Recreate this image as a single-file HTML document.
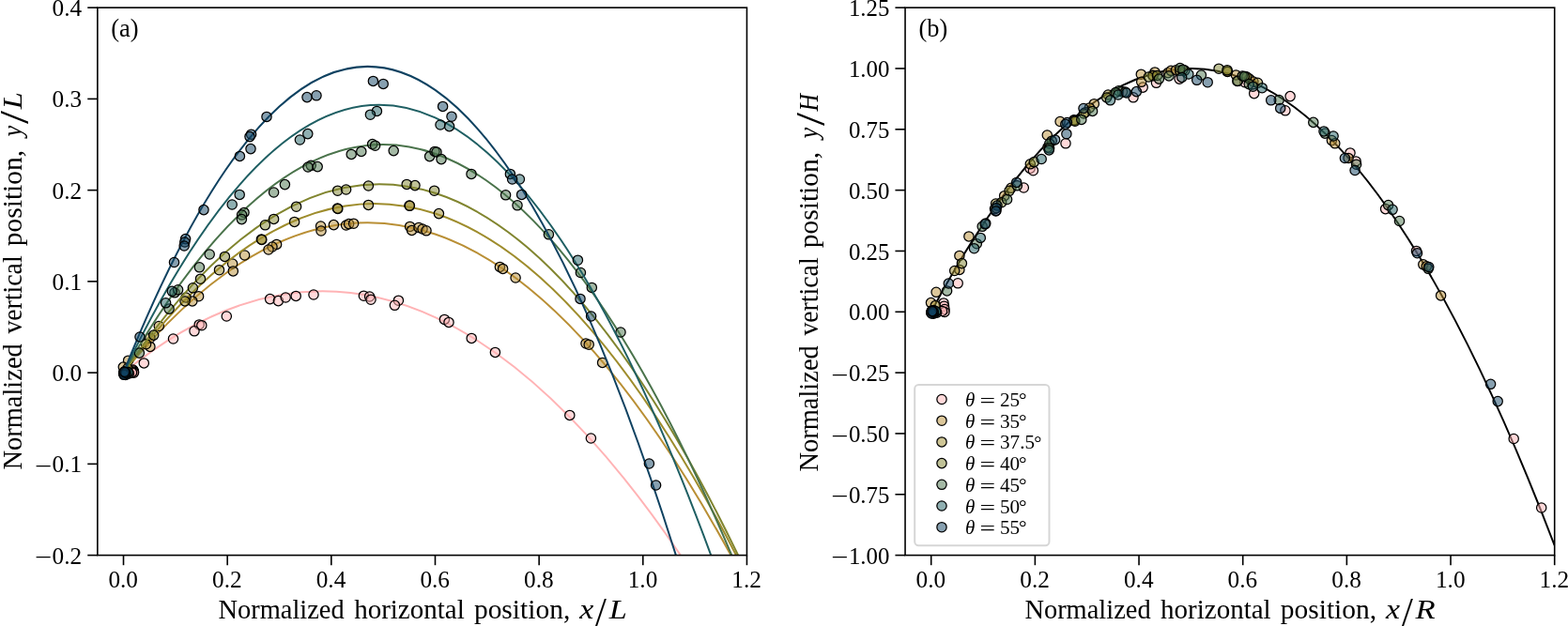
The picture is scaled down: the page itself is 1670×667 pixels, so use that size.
<!DOCTYPE html>
<html lang="en"><head><meta charset="utf-8"><title>Normalized projectile trajectories</title>
<style>html,body{margin:0;padding:0;background:#fff;}body{width:1670px;height:667px;overflow:hidden;}svg{display:block;}text{font-family:"Liberation Serif","DejaVu Serif",serif;fill:#000;}.it{font-style:italic;}.m{stroke:#000;stroke-width:1.25;}.c{fill:none;stroke-width:2;stroke-linecap:butt;stroke-linejoin:round;}.sp{fill:none;stroke:#000;stroke-width:1.6;stroke-linecap:square;}.t{stroke:#000;stroke-width:1.6;}</style></head><body>
<svg width="1670" height="667" viewBox="0 0 1670 667">
<rect x="0" y="0" width="1670" height="667" fill="#fff"/>
<defs><clipPath id="cl"><rect x="103.85" y="8.15" width="691.6" height="583.45"/></clipPath><clipPath id="cr"><rect x="964.05" y="8.15" width="691.65" height="583.45"/></clipPath></defs>
<g id="panel-a">
<g clip-path="url(#cl)">
<path class="c" stroke="#ffb3b5" d="M131.51 397.12Q463.48 125.05 795.45 705.36"/>
<g class="m" fill="#ffb3b5" fill-opacity="0.5">
<circle cx="287.6" cy="318.6" r="5.15"/>
<circle cx="296.4" cy="320.6" r="5.15"/>
<circle cx="304.2" cy="317.0" r="5.15"/>
<circle cx="315.2" cy="315.4" r="5.15"/>
<circle cx="334.0" cy="314.0" r="5.15"/>
<circle cx="387.4" cy="315.2" r="5.15"/>
<circle cx="393.6" cy="316.0" r="5.15"/>
<circle cx="395.0" cy="319.2" r="5.15"/>
<circle cx="424.4" cy="320.2" r="5.15"/>
<circle cx="420.4" cy="325.3" r="5.15"/>
<circle cx="241.3" cy="337.0" r="5.15"/>
<circle cx="212.2" cy="345.9" r="5.15"/>
<circle cx="214.8" cy="346.7" r="5.15"/>
<circle cx="207.0" cy="352.8" r="5.15"/>
<circle cx="184.5" cy="361.0" r="5.15"/>
<circle cx="153.3" cy="386.9" r="5.15"/>
<circle cx="473.4" cy="340.4" r="5.15"/>
<circle cx="478.0" cy="343.4" r="5.15"/>
<circle cx="502.2" cy="360.4" r="5.15"/>
<circle cx="527.4" cy="375.4" r="5.15"/>
<circle cx="606.8" cy="442.4" r="5.15"/>
<circle cx="629.4" cy="467.0" r="5.15"/>
<circle cx="141.7" cy="394.0" r="5.15"/>
<circle cx="142.1" cy="395.1" r="5.15"/>
<circle cx="142.5" cy="396.2" r="5.15"/>
<circle cx="142.5" cy="397.2" r="5.15"/>
<circle cx="140.5" cy="396.9" r="5.15"/>
</g>
<path class="c" stroke="#b98f35" d="M131.51 397.12Q463.48 -11.42 795.45 623.46"/>
<g class="m" fill="#b98f35" fill-opacity="0.5">
<circle cx="341.6" cy="241.0" r="5.15"/>
<circle cx="342.0" cy="246.0" r="5.15"/>
<circle cx="355.4" cy="239.6" r="5.15"/>
<circle cx="368.6" cy="240.0" r="5.15"/>
<circle cx="371.6" cy="238.6" r="5.15"/>
<circle cx="376.6" cy="238.2" r="5.15"/>
<circle cx="436.6" cy="241.4" r="5.15"/>
<circle cx="438.6" cy="245.4" r="5.15"/>
<circle cx="446.0" cy="242.4" r="5.15"/>
<circle cx="450.0" cy="244.0" r="5.15"/>
<circle cx="454.0" cy="245.8" r="5.15"/>
<circle cx="294.6" cy="260.4" r="5.15"/>
<circle cx="290.0" cy="263.0" r="5.15"/>
<circle cx="286.0" cy="266.0" r="5.15"/>
<circle cx="260.6" cy="272.0" r="5.15"/>
<circle cx="247.6" cy="281.0" r="5.15"/>
<circle cx="248.3" cy="288.9" r="5.15"/>
<circle cx="211.6" cy="315.7" r="5.15"/>
<circle cx="204.8" cy="320.9" r="5.15"/>
<circle cx="159.9" cy="369.4" r="5.15"/>
<circle cx="159.9" cy="360.2" r="5.15"/>
<circle cx="169.3" cy="347.5" r="5.15"/>
<circle cx="136.6" cy="384.2" r="5.15"/>
<circle cx="532.4" cy="284.4" r="5.15"/>
<circle cx="535.6" cy="286.4" r="5.15"/>
<circle cx="549.1" cy="296.0" r="5.15"/>
<circle cx="624.0" cy="366.0" r="5.15"/>
<circle cx="627.2" cy="367.2" r="5.15"/>
<circle cx="641.6" cy="386.4" r="5.15"/>
<circle cx="131.3" cy="391.1" r="5.15"/>
<circle cx="132.3" cy="396.3" r="5.15"/>
<circle cx="132.9" cy="397.2" r="5.15"/>
<circle cx="131.6" cy="397.6" r="5.15"/>
</g>
<path class="c" stroke="#9e8c2c" d="M131.51 397.12Q463.48 -50.58 795.45 614.10"/>
<g class="m" fill="#9e8c2c" fill-opacity="0.5">
<circle cx="392.4" cy="218.4" r="5.15"/>
<circle cx="359.4" cy="222.0" r="5.15"/>
<circle cx="359.8" cy="222.4" r="5.15"/>
<circle cx="436.0" cy="219.0" r="5.15"/>
<circle cx="436.4" cy="219.3" r="5.15"/>
<circle cx="313.6" cy="236.4" r="5.15"/>
<circle cx="278.4" cy="255.0" r="5.15"/>
<circle cx="278.8" cy="255.4" r="5.15"/>
<circle cx="233.5" cy="287.7" r="5.15"/>
<circle cx="198.0" cy="317.0" r="5.15"/>
<circle cx="197.0" cy="320.9" r="5.15"/>
<circle cx="467.4" cy="227.6" r="5.15"/>
<circle cx="155.6" cy="366.7" r="5.15"/>
<circle cx="135.9" cy="392.5" r="5.15"/>
<circle cx="132.4" cy="396.8" r="5.15"/>
<circle cx="133.1" cy="397.7" r="5.15"/>
</g>
<path class="c" stroke="#81852f" d="M131.51 397.12Q463.48 -92.46 795.45 611.07"/>
<g class="m" fill="#81852f" fill-opacity="0.5">
<circle cx="359.6" cy="203.2" r="5.15"/>
<circle cx="368.6" cy="202.0" r="5.15"/>
<circle cx="392.4" cy="198.0" r="5.15"/>
<circle cx="433.2" cy="196.4" r="5.15"/>
<circle cx="442.0" cy="197.6" r="5.15"/>
<circle cx="315.6" cy="220.2" r="5.15"/>
<circle cx="291.6" cy="233.4" r="5.15"/>
<circle cx="282.4" cy="239.8" r="5.15"/>
<circle cx="239.4" cy="273.4" r="5.15"/>
<circle cx="213.5" cy="297.2" r="5.15"/>
<circle cx="205.4" cy="306.8" r="5.15"/>
<circle cx="163.7" cy="357.1" r="5.15"/>
<circle cx="462.6" cy="203.2" r="5.15"/>
<circle cx="132.0" cy="396.5" r="5.15"/>
<circle cx="133.4" cy="397.6" r="5.15"/>
<circle cx="134.3" cy="395.7" r="5.15"/>
</g>
<path class="c" stroke="#4a734b" d="M131.51 397.12Q463.48 -186.33 795.45 630.50"/>
<g class="m" fill="#4a734b" fill-opacity="0.5">
<circle cx="396.6" cy="153.6" r="5.15"/>
<circle cx="399.6" cy="155.2" r="5.15"/>
<circle cx="419.2" cy="160.6" r="5.15"/>
<circle cx="384.8" cy="161.4" r="5.15"/>
<circle cx="374.2" cy="164.4" r="5.15"/>
<circle cx="457.6" cy="166.6" r="5.15"/>
<circle cx="463.0" cy="161.4" r="5.15"/>
<circle cx="465.0" cy="162.0" r="5.15"/>
<circle cx="470.0" cy="169.6" r="5.15"/>
<circle cx="331.2" cy="176.3" r="5.15"/>
<circle cx="328.0" cy="178.0" r="5.15"/>
<circle cx="338.2" cy="177.6" r="5.15"/>
<circle cx="303.4" cy="196.6" r="5.15"/>
<circle cx="291.6" cy="205.0" r="5.15"/>
<circle cx="223.2" cy="271.0" r="5.15"/>
<circle cx="212.4" cy="284.8" r="5.15"/>
<circle cx="260.0" cy="226.4" r="5.15"/>
<circle cx="257.6" cy="229.0" r="5.15"/>
<circle cx="257.4" cy="233.6" r="5.15"/>
<circle cx="502.0" cy="185.4" r="5.15"/>
<circle cx="538.6" cy="207.8" r="5.15"/>
<circle cx="551.0" cy="218.8" r="5.15"/>
<circle cx="584.4" cy="249.8" r="5.15"/>
<circle cx="618.4" cy="290.5" r="5.15"/>
<circle cx="630.3" cy="306.4" r="5.15"/>
<circle cx="661.0" cy="354.0" r="5.15"/>
<circle cx="186.0" cy="311.8" r="5.15"/>
<circle cx="189.6" cy="308.8" r="5.15"/>
<circle cx="180.1" cy="329.1" r="5.15"/>
<circle cx="148.4" cy="376.1" r="5.15"/>
<circle cx="132.6" cy="396.1" r="5.15"/>
<circle cx="133.7" cy="398.1" r="5.15"/>
<circle cx="136.3" cy="397.0" r="5.15"/>
</g>
<path class="c" stroke="#1f5f63" d="M131.51 397.12Q463.48 -298.21 795.45 700.99"/>
<g class="m" fill="#1f5f63" fill-opacity="0.5">
<circle cx="401.4" cy="118.4" r="5.15"/>
<circle cx="394.4" cy="122.2" r="5.15"/>
<circle cx="327.8" cy="142.6" r="5.15"/>
<circle cx="319.4" cy="149.0" r="5.15"/>
<circle cx="255.2" cy="207.4" r="5.15"/>
<circle cx="247.2" cy="218.0" r="5.15"/>
<circle cx="469.0" cy="133.0" r="5.15"/>
<circle cx="478.6" cy="134.6" r="5.15"/>
<circle cx="543.4" cy="185.4" r="5.15"/>
<circle cx="553.4" cy="191.0" r="5.15"/>
<circle cx="615.4" cy="277.2" r="5.15"/>
<circle cx="183.3" cy="310.3" r="5.15"/>
<circle cx="176.6" cy="322.8" r="5.15"/>
<circle cx="137.4" cy="398.0" r="5.15"/>
<circle cx="136.5" cy="396.6" r="5.15"/>
<circle cx="132.8" cy="396.8" r="5.15"/>
<circle cx="132.0" cy="398.3" r="5.15"/>
</g>
<path class="c" stroke="#0f4261" d="M131.51 397.12Q463.48 -436.14 795.45 858.76"/>
<g class="m" fill="#0f4261" fill-opacity="0.5">
<circle cx="397.4" cy="86.4" r="5.15"/>
<circle cx="408.2" cy="89.4" r="5.15"/>
<circle cx="327.0" cy="103.6" r="5.15"/>
<circle cx="337.0" cy="101.8" r="5.15"/>
<circle cx="284.0" cy="124.4" r="5.15"/>
<circle cx="267.6" cy="143.2" r="5.15"/>
<circle cx="266.0" cy="145.6" r="5.15"/>
<circle cx="267.0" cy="158.6" r="5.15"/>
<circle cx="255.4" cy="166.4" r="5.15"/>
<circle cx="217.0" cy="223.6" r="5.15"/>
<circle cx="197.6" cy="254.6" r="5.15"/>
<circle cx="196.8" cy="258.0" r="5.15"/>
<circle cx="196.2" cy="262.0" r="5.15"/>
<circle cx="185.5" cy="279.5" r="5.15"/>
<circle cx="471.6" cy="113.4" r="5.15"/>
<circle cx="481.0" cy="124.2" r="5.15"/>
<circle cx="545.6" cy="191.0" r="5.15"/>
<circle cx="555.6" cy="207.4" r="5.15"/>
<circle cx="618.0" cy="318.4" r="5.15"/>
<circle cx="629.6" cy="337.0" r="5.15"/>
<circle cx="691.4" cy="494.0" r="5.15"/>
<circle cx="698.6" cy="517.0" r="5.15"/>
<circle cx="149.0" cy="359.0" r="5.15"/>
<circle cx="133.0" cy="398.3" r="5.15"/>
<circle cx="132.2" cy="397.0" r="5.15"/>
<circle cx="133.8" cy="399.5" r="5.15"/>
<circle cx="131.9" cy="399.3" r="5.15"/>
<circle cx="133.8" cy="397.1" r="5.15"/>
<circle cx="132.6" cy="396.2" r="5.15"/>
</g>
</g>
<rect class="sp" x="103.85" y="8.15" width="691.6" height="583.45"/>
<line class="t" x1="131.51" y1="591.6" x2="131.51" y2="602.2"/>
<line class="t" x1="242.17" y1="591.6" x2="242.17" y2="602.2"/>
<line class="t" x1="352.83" y1="591.6" x2="352.83" y2="602.2"/>
<line class="t" x1="463.48" y1="591.6" x2="463.48" y2="602.2"/>
<line class="t" x1="574.14" y1="591.6" x2="574.14" y2="602.2"/>
<line class="t" x1="684.79" y1="591.6" x2="684.79" y2="602.2"/>
<line class="t" x1="795.45" y1="591.6" x2="795.45" y2="602.2"/>
<line class="t" x1="93.25" y1="591.60" x2="103.85" y2="591.60"/>
<line class="t" x1="93.25" y1="494.36" x2="103.85" y2="494.36"/>
<line class="t" x1="93.25" y1="397.12" x2="103.85" y2="397.12"/>
<line class="t" x1="93.25" y1="299.87" x2="103.85" y2="299.87"/>
<line class="t" x1="93.25" y1="202.63" x2="103.85" y2="202.63"/>
<line class="t" x1="93.25" y1="105.39" x2="103.85" y2="105.39"/>
<line class="t" x1="93.25" y1="8.15" x2="103.85" y2="8.15"/>
<text x="232.48" y="659.45" textLength="134.26" lengthAdjust="spacingAndGlyphs" style="font-size:29.6px">Normalized</text>
<text x="377.15" y="659.45" textLength="117.62" lengthAdjust="spacingAndGlyphs" style="font-size:29.6px">horizontal</text>
<text x="504.90" y="659.45" textLength="102.37" lengthAdjust="spacingAndGlyphs" style="font-size:29.6px">position,</text>
<text class="it" x="617.18" y="659.45" textLength="14.98" lengthAdjust="spacingAndGlyphs" style="font-size:29.6px">x</text>
<text x="634.00" y="667.05" textLength="11.89" lengthAdjust="spacingAndGlyphs" style="font-size:43.5px">/</text>
<text class="it" x="648.89" y="659.45" textLength="19.11" lengthAdjust="spacingAndGlyphs" style="font-size:29.6px">L</text>
<text x="118.17" y="38.70" textLength="29.42" lengthAdjust="spacingAndGlyphs" style="font-size:27px">(a)</text>
<text x="115.41" y="625.60" textLength="31.59" lengthAdjust="spacingAndGlyphs" style="font-size:25.2px">0.0</text>
<text x="226.07" y="625.60" textLength="31.59" lengthAdjust="spacingAndGlyphs" style="font-size:25.2px">0.2</text>
<text x="336.72" y="625.60" textLength="31.59" lengthAdjust="spacingAndGlyphs" style="font-size:25.2px">0.4</text>
<text x="447.38" y="625.60" textLength="31.59" lengthAdjust="spacingAndGlyphs" style="font-size:25.2px">0.6</text>
<text x="558.03" y="625.60" textLength="31.59" lengthAdjust="spacingAndGlyphs" style="font-size:25.2px">0.8</text>
<text x="668.69" y="625.60" textLength="31.59" lengthAdjust="spacingAndGlyphs" style="font-size:25.2px">1.0</text>
<text x="779.35" y="625.60" textLength="31.59" lengthAdjust="spacingAndGlyphs" style="font-size:25.2px">1.2</text>
<text x="55.50" y="600.70" textLength="31.59" lengthAdjust="spacingAndGlyphs" style="font-size:25.2px">0.2</text>
<text x="36.99" y="602.30" textLength="18.27" lengthAdjust="spacingAndGlyphs" style="font-size:25.2px">−</text>
<text x="55.50" y="503.46" textLength="31.59" lengthAdjust="spacingAndGlyphs" style="font-size:25.2px">0.1</text>
<text x="36.99" y="505.06" textLength="18.27" lengthAdjust="spacingAndGlyphs" style="font-size:25.2px">−</text>
<text x="55.50" y="406.22" textLength="31.59" lengthAdjust="spacingAndGlyphs" style="font-size:25.2px">0.0</text>
<text x="55.50" y="308.97" textLength="31.59" lengthAdjust="spacingAndGlyphs" style="font-size:25.2px">0.1</text>
<text x="55.50" y="211.73" textLength="31.59" lengthAdjust="spacingAndGlyphs" style="font-size:25.2px">0.2</text>
<text x="55.50" y="114.49" textLength="31.59" lengthAdjust="spacingAndGlyphs" style="font-size:25.2px">0.3</text>
<text x="55.50" y="17.25" textLength="31.59" lengthAdjust="spacingAndGlyphs" style="font-size:25.2px">0.4</text>
<g transform="translate(22.8,500) rotate(-90)">
<text x="-0.52" y="0.00" textLength="134.26" lengthAdjust="spacingAndGlyphs" style="font-size:29.6px">Normalized</text>
<text x="144.40" y="0.00" textLength="83.25" lengthAdjust="spacingAndGlyphs" style="font-size:29.6px">vertical</text>
<text x="237.80" y="0.00" textLength="102.37" lengthAdjust="spacingAndGlyphs" style="font-size:29.6px">position,</text>
<text class="it" x="354.42" y="0.00" textLength="11.68" lengthAdjust="spacingAndGlyphs" style="font-size:29.6px">y</text>
<text x="367.90" y="7.60" textLength="13.91" lengthAdjust="spacingAndGlyphs" style="font-size:43.5px">/</text>
<text class="it" x="383.78" y="0.00" textLength="18.14" lengthAdjust="spacingAndGlyphs" style="font-size:29.6px">L</text>
</g>
</g>
<g id="panel-b">
<g clip-path="url(#cr)">
<path class="c" stroke="#000" style="stroke-width:2" d="M991.72 332.29Q1323.71 -290.06 1655.70 581.23"/>
<g class="m" fill="#ffb3b5" fill-opacity="0.5">
<circle cx="1195.5" cy="97.8" r="5.15"/>
<circle cx="1207.0" cy="103.8" r="5.15"/>
<circle cx="1217.2" cy="93.1" r="5.15"/>
<circle cx="1231.5" cy="88.3" r="5.15"/>
<circle cx="1256.1" cy="84.1" r="5.15"/>
<circle cx="1325.8" cy="87.7" r="5.15"/>
<circle cx="1333.9" cy="90.1" r="5.15"/>
<circle cx="1335.7" cy="99.6" r="5.15"/>
<circle cx="1374.1" cy="102.6" r="5.15"/>
<circle cx="1368.9" cy="117.8" r="5.15"/>
<circle cx="1135.0" cy="152.8" r="5.15"/>
<circle cx="1097.1" cy="179.4" r="5.15"/>
<circle cx="1100.4" cy="181.7" r="5.15"/>
<circle cx="1090.3" cy="200.0" r="5.15"/>
<circle cx="1060.9" cy="224.4" r="5.15"/>
<circle cx="1020.2" cy="301.8" r="5.15"/>
<circle cx="1438.0" cy="162.9" r="5.15"/>
<circle cx="1444.1" cy="171.9" r="5.15"/>
<circle cx="1475.6" cy="222.6" r="5.15"/>
<circle cx="1508.5" cy="267.4" r="5.15"/>
<circle cx="1612.2" cy="467.5" r="5.15"/>
<circle cx="1641.7" cy="541.0" r="5.15"/>
<circle cx="1005.0" cy="322.9" r="5.15"/>
<circle cx="1005.5" cy="326.2" r="5.15"/>
<circle cx="1006.0" cy="329.5" r="5.15"/>
<circle cx="1006.0" cy="332.4" r="5.15"/>
<circle cx="1003.5" cy="331.5" r="5.15"/>
</g>
<g class="m" fill="#b98f35" fill-opacity="0.5">
<circle cx="1215.3" cy="79.2" r="5.15"/>
<circle cx="1215.7" cy="87.3" r="5.15"/>
<circle cx="1230.0" cy="76.9" r="5.15"/>
<circle cx="1244.0" cy="77.6" r="5.15"/>
<circle cx="1247.2" cy="75.3" r="5.15"/>
<circle cx="1252.5" cy="74.7" r="5.15"/>
<circle cx="1316.4" cy="79.9" r="5.15"/>
<circle cx="1318.5" cy="86.3" r="5.15"/>
<circle cx="1326.4" cy="81.5" r="5.15"/>
<circle cx="1330.7" cy="84.1" r="5.15"/>
<circle cx="1334.9" cy="87.0" r="5.15"/>
<circle cx="1165.3" cy="110.7" r="5.15"/>
<circle cx="1160.4" cy="114.9" r="5.15"/>
<circle cx="1156.1" cy="119.7" r="5.15"/>
<circle cx="1129.1" cy="129.5" r="5.15"/>
<circle cx="1115.3" cy="144.0" r="5.15"/>
<circle cx="1116.0" cy="156.9" r="5.15"/>
<circle cx="1076.9" cy="200.3" r="5.15"/>
<circle cx="1069.7" cy="208.7" r="5.15"/>
<circle cx="1021.9" cy="287.4" r="5.15"/>
<circle cx="1021.9" cy="272.4" r="5.15"/>
<circle cx="1031.9" cy="251.9" r="5.15"/>
<circle cx="997.1" cy="311.3" r="5.15"/>
<circle cx="1418.4" cy="149.6" r="5.15"/>
<circle cx="1421.8" cy="152.8" r="5.15"/>
<circle cx="1436.1" cy="168.4" r="5.15"/>
<circle cx="1515.8" cy="281.8" r="5.15"/>
<circle cx="1519.3" cy="283.8" r="5.15"/>
<circle cx="1534.6" cy="314.9" r="5.15"/>
<circle cx="991.5" cy="322.6" r="5.15"/>
<circle cx="992.5" cy="331.0" r="5.15"/>
<circle cx="993.2" cy="332.5" r="5.15"/>
<circle cx="991.8" cy="333.0" r="5.15"/>
</g>
<g class="m" fill="#9e8c2c" fill-opacity="0.5">
<circle cx="1261.8" cy="75.1" r="5.15"/>
<circle cx="1227.7" cy="80.3" r="5.15"/>
<circle cx="1228.1" cy="80.8" r="5.15"/>
<circle cx="1307.0" cy="76.0" r="5.15"/>
<circle cx="1307.4" cy="76.4" r="5.15"/>
<circle cx="1180.2" cy="101.0" r="5.15"/>
<circle cx="1143.8" cy="127.8" r="5.15"/>
<circle cx="1144.2" cy="128.3" r="5.15"/>
<circle cx="1097.3" cy="174.8" r="5.15"/>
<circle cx="1060.6" cy="217.0" r="5.15"/>
<circle cx="1059.5" cy="222.6" r="5.15"/>
<circle cx="1339.5" cy="88.3" r="5.15"/>
<circle cx="1016.7" cy="288.5" r="5.15"/>
<circle cx="996.3" cy="325.6" r="5.15"/>
<circle cx="992.6" cy="331.8" r="5.15"/>
<circle cx="993.4" cy="333.2" r="5.15"/>
</g>
<g class="m" fill="#81852f" fill-opacity="0.5">
<circle cx="1223.3" cy="82.0" r="5.15"/>
<circle cx="1232.5" cy="80.4" r="5.15"/>
<circle cx="1256.6" cy="75.3" r="5.15"/>
<circle cx="1298.1" cy="73.2" r="5.15"/>
<circle cx="1307.0" cy="74.7" r="5.15"/>
<circle cx="1178.7" cy="103.9" r="5.15"/>
<circle cx="1154.3" cy="121.0" r="5.15"/>
<circle cx="1144.9" cy="129.2" r="5.15"/>
<circle cx="1101.3" cy="172.6" r="5.15"/>
<circle cx="1075.0" cy="203.3" r="5.15"/>
<circle cx="1066.7" cy="215.7" r="5.15"/>
<circle cx="1024.4" cy="280.6" r="5.15"/>
<circle cx="1327.9" cy="82.0" r="5.15"/>
<circle cx="992.2" cy="331.5" r="5.15"/>
<circle cx="993.6" cy="332.9" r="5.15"/>
<circle cx="994.5" cy="330.5" r="5.15"/>
</g>
<g class="m" fill="#4a734b" fill-opacity="0.5">
<circle cx="1256.8" cy="72.5" r="5.15"/>
<circle cx="1259.8" cy="74.2" r="5.15"/>
<circle cx="1279.4" cy="80.0" r="5.15"/>
<circle cx="1245.0" cy="80.9" r="5.15"/>
<circle cx="1234.4" cy="84.1" r="5.15"/>
<circle cx="1317.8" cy="86.4" r="5.15"/>
<circle cx="1323.2" cy="80.9" r="5.15"/>
<circle cx="1325.2" cy="81.5" r="5.15"/>
<circle cx="1330.2" cy="89.6" r="5.15"/>
<circle cx="1191.4" cy="96.8" r="5.15"/>
<circle cx="1188.2" cy="98.6" r="5.15"/>
<circle cx="1198.4" cy="98.1" r="5.15"/>
<circle cx="1163.6" cy="118.4" r="5.15"/>
<circle cx="1151.8" cy="127.4" r="5.15"/>
<circle cx="1083.4" cy="197.8" r="5.15"/>
<circle cx="1072.6" cy="212.5" r="5.15"/>
<circle cx="1120.2" cy="150.2" r="5.15"/>
<circle cx="1117.8" cy="153.0" r="5.15"/>
<circle cx="1117.6" cy="157.9" r="5.15"/>
<circle cx="1362.2" cy="106.5" r="5.15"/>
<circle cx="1398.8" cy="130.4" r="5.15"/>
<circle cx="1411.2" cy="142.1" r="5.15"/>
<circle cx="1444.6" cy="175.2" r="5.15"/>
<circle cx="1478.6" cy="218.6" r="5.15"/>
<circle cx="1490.5" cy="235.5" r="5.15"/>
<circle cx="1521.2" cy="286.3" r="5.15"/>
<circle cx="1046.2" cy="241.3" r="5.15"/>
<circle cx="1049.8" cy="238.1" r="5.15"/>
<circle cx="1040.3" cy="259.7" r="5.15"/>
<circle cx="1008.6" cy="309.9" r="5.15"/>
<circle cx="992.8" cy="331.2" r="5.15"/>
<circle cx="993.9" cy="333.3" r="5.15"/>
<circle cx="996.5" cy="332.2" r="5.15"/>
</g>
<g class="m" fill="#1f5f63" fill-opacity="0.5">
<circle cx="1265.8" cy="79.0" r="5.15"/>
<circle cx="1258.7" cy="82.4" r="5.15"/>
<circle cx="1191.0" cy="101.0" r="5.15"/>
<circle cx="1182.5" cy="106.8" r="5.15"/>
<circle cx="1117.3" cy="159.9" r="5.15"/>
<circle cx="1109.2" cy="169.5" r="5.15"/>
<circle cx="1334.4" cy="92.2" r="5.15"/>
<circle cx="1344.2" cy="93.7" r="5.15"/>
<circle cx="1410.0" cy="139.9" r="5.15"/>
<circle cx="1420.1" cy="145.0" r="5.15"/>
<circle cx="1483.1" cy="223.3" r="5.15"/>
<circle cx="1044.3" cy="253.4" r="5.15"/>
<circle cx="1037.5" cy="264.7" r="5.15"/>
<circle cx="997.7" cy="333.1" r="5.15"/>
<circle cx="996.8" cy="331.8" r="5.15"/>
<circle cx="993.0" cy="332.0" r="5.15"/>
<circle cx="992.2" cy="333.4" r="5.15"/>
</g>
<g class="m" fill="#0f4261" fill-opacity="0.5">
<circle cx="1274.7" cy="85.3" r="5.15"/>
<circle cx="1286.2" cy="87.7" r="5.15"/>
<circle cx="1199.8" cy="99.0" r="5.15"/>
<circle cx="1210.4" cy="97.6" r="5.15"/>
<circle cx="1154.0" cy="115.5" r="5.15"/>
<circle cx="1136.5" cy="130.5" r="5.15"/>
<circle cx="1134.8" cy="132.4" r="5.15"/>
<circle cx="1135.9" cy="142.7" r="5.15"/>
<circle cx="1123.6" cy="148.9" r="5.15"/>
<circle cx="1082.7" cy="194.4" r="5.15"/>
<circle cx="1062.0" cy="219.0" r="5.15"/>
<circle cx="1061.2" cy="221.7" r="5.15"/>
<circle cx="1060.6" cy="224.9" r="5.15"/>
<circle cx="1049.2" cy="238.8" r="5.15"/>
<circle cx="1353.7" cy="106.8" r="5.15"/>
<circle cx="1363.7" cy="115.4" r="5.15"/>
<circle cx="1432.4" cy="168.5" r="5.15"/>
<circle cx="1443.1" cy="181.5" r="5.15"/>
<circle cx="1509.5" cy="269.7" r="5.15"/>
<circle cx="1521.8" cy="284.5" r="5.15"/>
<circle cx="1587.6" cy="409.3" r="5.15"/>
<circle cx="1595.2" cy="427.6" r="5.15"/>
<circle cx="1010.3" cy="302.0" r="5.15"/>
<circle cx="993.3" cy="333.2" r="5.15"/>
<circle cx="992.4" cy="332.2" r="5.15"/>
<circle cx="994.2" cy="334.2" r="5.15"/>
<circle cx="992.1" cy="334.0" r="5.15"/>
<circle cx="994.2" cy="332.3" r="5.15"/>
<circle cx="992.9" cy="331.6" r="5.15"/>
</g>
</g>
<rect x="974.2" y="410" width="143.3" height="171.2" rx="4.2" ry="4.2" fill="#fff" fill-opacity="0.8" stroke="#ccc" stroke-opacity="0.8" stroke-width="2"/>
<circle class="m" cx="1003" cy="425.50" r="5.15" fill="#ffb3b5" fill-opacity="0.5" style="stroke-width:1.25"/>
<circle class="m" cx="1003" cy="448.20" r="5.15" fill="#b98f35" fill-opacity="0.5" style="stroke-width:1.25"/>
<circle class="m" cx="1003" cy="470.90" r="5.15" fill="#9e8c2c" fill-opacity="0.5" style="stroke-width:1.25"/>
<circle class="m" cx="1003" cy="493.60" r="5.15" fill="#81852f" fill-opacity="0.5" style="stroke-width:1.25"/>
<circle class="m" cx="1003" cy="516.30" r="5.15" fill="#4a734b" fill-opacity="0.5" style="stroke-width:1.25"/>
<circle class="m" cx="1003" cy="539.00" r="5.15" fill="#1f5f63" fill-opacity="0.5" style="stroke-width:1.25"/>
<circle class="m" cx="1003" cy="561.70" r="5.15" fill="#0f4261" fill-opacity="0.5" style="stroke-width:1.25"/>
<text class="it" x="1027.93" y="433.05" textLength="10.37" lengthAdjust="spacingAndGlyphs" style="font-size:21.7px">θ</text>
<text x="1043.64" y="434.05" textLength="16.59" lengthAdjust="spacingAndGlyphs" style="font-size:21.7px">=</text>
<text x="1065.02" y="433.05" textLength="21.19" lengthAdjust="spacingAndGlyphs" style="font-size:21.7px">25</text>
<text x="1085.00" y="433.15" textLength="8.53" lengthAdjust="spacingAndGlyphs" style="font-size:21.3px">°</text>
<text class="it" x="1027.93" y="455.75" textLength="10.37" lengthAdjust="spacingAndGlyphs" style="font-size:21.7px">θ</text>
<text x="1043.64" y="456.75" textLength="16.59" lengthAdjust="spacingAndGlyphs" style="font-size:21.7px">=</text>
<text x="1065.02" y="455.75" textLength="21.19" lengthAdjust="spacingAndGlyphs" style="font-size:21.7px">35</text>
<text x="1085.00" y="455.85" textLength="8.53" lengthAdjust="spacingAndGlyphs" style="font-size:21.3px">°</text>
<text class="it" x="1027.93" y="478.45" textLength="10.37" lengthAdjust="spacingAndGlyphs" style="font-size:21.7px">θ</text>
<text x="1043.64" y="479.45" textLength="16.59" lengthAdjust="spacingAndGlyphs" style="font-size:21.7px">=</text>
<text x="1065.03" y="478.45" textLength="37.00" lengthAdjust="spacingAndGlyphs" style="font-size:21.7px">37.5</text>
<text x="1101.35" y="478.55" textLength="8.14" lengthAdjust="spacingAndGlyphs" style="font-size:21.3px">°</text>
<text class="it" x="1027.93" y="501.15" textLength="10.37" lengthAdjust="spacingAndGlyphs" style="font-size:21.7px">θ</text>
<text x="1043.64" y="502.15" textLength="16.59" lengthAdjust="spacingAndGlyphs" style="font-size:21.7px">=</text>
<text x="1065.02" y="501.15" textLength="21.19" lengthAdjust="spacingAndGlyphs" style="font-size:21.7px">40</text>
<text x="1085.00" y="501.25" textLength="8.53" lengthAdjust="spacingAndGlyphs" style="font-size:21.3px">°</text>
<text class="it" x="1027.93" y="523.85" textLength="10.37" lengthAdjust="spacingAndGlyphs" style="font-size:21.7px">θ</text>
<text x="1043.64" y="524.85" textLength="16.59" lengthAdjust="spacingAndGlyphs" style="font-size:21.7px">=</text>
<text x="1065.02" y="523.85" textLength="21.19" lengthAdjust="spacingAndGlyphs" style="font-size:21.7px">45</text>
<text x="1085.00" y="523.95" textLength="8.53" lengthAdjust="spacingAndGlyphs" style="font-size:21.3px">°</text>
<text class="it" x="1027.93" y="546.55" textLength="10.37" lengthAdjust="spacingAndGlyphs" style="font-size:21.7px">θ</text>
<text x="1043.64" y="547.55" textLength="16.59" lengthAdjust="spacingAndGlyphs" style="font-size:21.7px">=</text>
<text x="1065.02" y="546.55" textLength="21.19" lengthAdjust="spacingAndGlyphs" style="font-size:21.7px">50</text>
<text x="1085.00" y="546.65" textLength="8.53" lengthAdjust="spacingAndGlyphs" style="font-size:21.3px">°</text>
<text class="it" x="1027.93" y="569.25" textLength="10.37" lengthAdjust="spacingAndGlyphs" style="font-size:21.7px">θ</text>
<text x="1043.64" y="570.25" textLength="16.59" lengthAdjust="spacingAndGlyphs" style="font-size:21.7px">=</text>
<text x="1065.02" y="569.25" textLength="21.19" lengthAdjust="spacingAndGlyphs" style="font-size:21.7px">55</text>
<text x="1085.00" y="569.35" textLength="8.53" lengthAdjust="spacingAndGlyphs" style="font-size:21.3px">°</text>
<rect class="sp" x="964.05" y="8.15" width="691.65" height="583.45"/>
<line class="t" x1="991.72" y1="591.6" x2="991.72" y2="602.2"/>
<line class="t" x1="1102.38" y1="591.6" x2="1102.38" y2="602.2"/>
<line class="t" x1="1213.04" y1="591.6" x2="1213.04" y2="602.2"/>
<line class="t" x1="1323.71" y1="591.6" x2="1323.71" y2="602.2"/>
<line class="t" x1="1434.37" y1="591.6" x2="1434.37" y2="602.2"/>
<line class="t" x1="1545.04" y1="591.6" x2="1545.04" y2="602.2"/>
<line class="t" x1="1655.70" y1="591.6" x2="1655.70" y2="602.2"/>
<line class="t" x1="953.45" y1="591.60" x2="964.05" y2="591.60"/>
<line class="t" x1="953.45" y1="526.77" x2="964.05" y2="526.77"/>
<line class="t" x1="953.45" y1="461.94" x2="964.05" y2="461.94"/>
<line class="t" x1="953.45" y1="397.12" x2="964.05" y2="397.12"/>
<line class="t" x1="953.45" y1="332.29" x2="964.05" y2="332.29"/>
<line class="t" x1="953.45" y1="267.46" x2="964.05" y2="267.46"/>
<line class="t" x1="953.45" y1="202.63" x2="964.05" y2="202.63"/>
<line class="t" x1="953.45" y1="137.81" x2="964.05" y2="137.81"/>
<line class="t" x1="953.45" y1="72.98" x2="964.05" y2="72.98"/>
<line class="t" x1="953.45" y1="8.15" x2="964.05" y2="8.15"/>
<text x="1091.38" y="659.45" textLength="134.26" lengthAdjust="spacingAndGlyphs" style="font-size:29.6px">Normalized</text>
<text x="1236.05" y="659.45" textLength="117.62" lengthAdjust="spacingAndGlyphs" style="font-size:29.6px">horizontal</text>
<text x="1363.80" y="659.45" textLength="102.37" lengthAdjust="spacingAndGlyphs" style="font-size:29.6px">position,</text>
<text class="it" x="1476.08" y="659.45" textLength="14.98" lengthAdjust="spacingAndGlyphs" style="font-size:29.6px">x</text>
<text x="1492.90" y="667.05" textLength="11.89" lengthAdjust="spacingAndGlyphs" style="font-size:43.5px">/</text>
<text class="it" x="1507.59" y="659.45" textLength="21.18" lengthAdjust="spacingAndGlyphs" style="font-size:29.6px">R</text>
<text x="978.58" y="38.70" textLength="30.72" lengthAdjust="spacingAndGlyphs" style="font-size:27px">(b)</text>
<text x="975.61" y="625.60" textLength="31.59" lengthAdjust="spacingAndGlyphs" style="font-size:25.2px">0.0</text>
<text x="1086.28" y="625.60" textLength="31.59" lengthAdjust="spacingAndGlyphs" style="font-size:25.2px">0.2</text>
<text x="1196.94" y="625.60" textLength="31.59" lengthAdjust="spacingAndGlyphs" style="font-size:25.2px">0.4</text>
<text x="1307.60" y="625.60" textLength="31.59" lengthAdjust="spacingAndGlyphs" style="font-size:25.2px">0.6</text>
<text x="1418.27" y="625.60" textLength="31.59" lengthAdjust="spacingAndGlyphs" style="font-size:25.2px">0.8</text>
<text x="1528.93" y="625.60" textLength="31.59" lengthAdjust="spacingAndGlyphs" style="font-size:25.2px">1.0</text>
<text x="1639.60" y="625.60" textLength="31.59" lengthAdjust="spacingAndGlyphs" style="font-size:25.2px">1.2</text>
<text x="903.91" y="600.70" textLength="43.50" lengthAdjust="spacingAndGlyphs" style="font-size:25.2px">1.00</text>
<text x="885.39" y="602.30" textLength="18.27" lengthAdjust="spacingAndGlyphs" style="font-size:25.2px">−</text>
<text x="903.91" y="535.87" textLength="43.50" lengthAdjust="spacingAndGlyphs" style="font-size:25.2px">0.75</text>
<text x="885.39" y="537.47" textLength="18.27" lengthAdjust="spacingAndGlyphs" style="font-size:25.2px">−</text>
<text x="903.91" y="471.04" textLength="43.50" lengthAdjust="spacingAndGlyphs" style="font-size:25.2px">0.50</text>
<text x="885.39" y="472.64" textLength="18.27" lengthAdjust="spacingAndGlyphs" style="font-size:25.2px">−</text>
<text x="903.91" y="406.22" textLength="43.50" lengthAdjust="spacingAndGlyphs" style="font-size:25.2px">0.25</text>
<text x="885.39" y="407.82" textLength="18.27" lengthAdjust="spacingAndGlyphs" style="font-size:25.2px">−</text>
<text x="903.91" y="341.39" textLength="43.50" lengthAdjust="spacingAndGlyphs" style="font-size:25.2px">0.00</text>
<text x="903.91" y="276.56" textLength="43.50" lengthAdjust="spacingAndGlyphs" style="font-size:25.2px">0.25</text>
<text x="903.91" y="211.73" textLength="43.50" lengthAdjust="spacingAndGlyphs" style="font-size:25.2px">0.50</text>
<text x="903.91" y="146.91" textLength="43.50" lengthAdjust="spacingAndGlyphs" style="font-size:25.2px">0.75</text>
<text x="903.91" y="82.08" textLength="43.50" lengthAdjust="spacingAndGlyphs" style="font-size:25.2px">1.00</text>
<text x="903.91" y="17.25" textLength="43.50" lengthAdjust="spacingAndGlyphs" style="font-size:25.2px">1.25</text>
<g transform="translate(870.7,502) rotate(-90)">
<text x="-0.52" y="0.00" textLength="134.26" lengthAdjust="spacingAndGlyphs" style="font-size:29.6px">Normalized</text>
<text x="144.40" y="0.00" textLength="83.25" lengthAdjust="spacingAndGlyphs" style="font-size:29.6px">vertical</text>
<text x="237.80" y="0.00" textLength="102.37" lengthAdjust="spacingAndGlyphs" style="font-size:29.6px">position,</text>
<text class="it" x="354.42" y="0.00" textLength="11.68" lengthAdjust="spacingAndGlyphs" style="font-size:29.6px">y</text>
<text x="367.90" y="7.60" textLength="13.91" lengthAdjust="spacingAndGlyphs" style="font-size:43.5px">/</text>
<text class="it" x="383.62" y="0.00" textLength="18.49" lengthAdjust="spacingAndGlyphs" style="font-size:29.6px">H</text>
</g>
</g>
</svg></body></html>
